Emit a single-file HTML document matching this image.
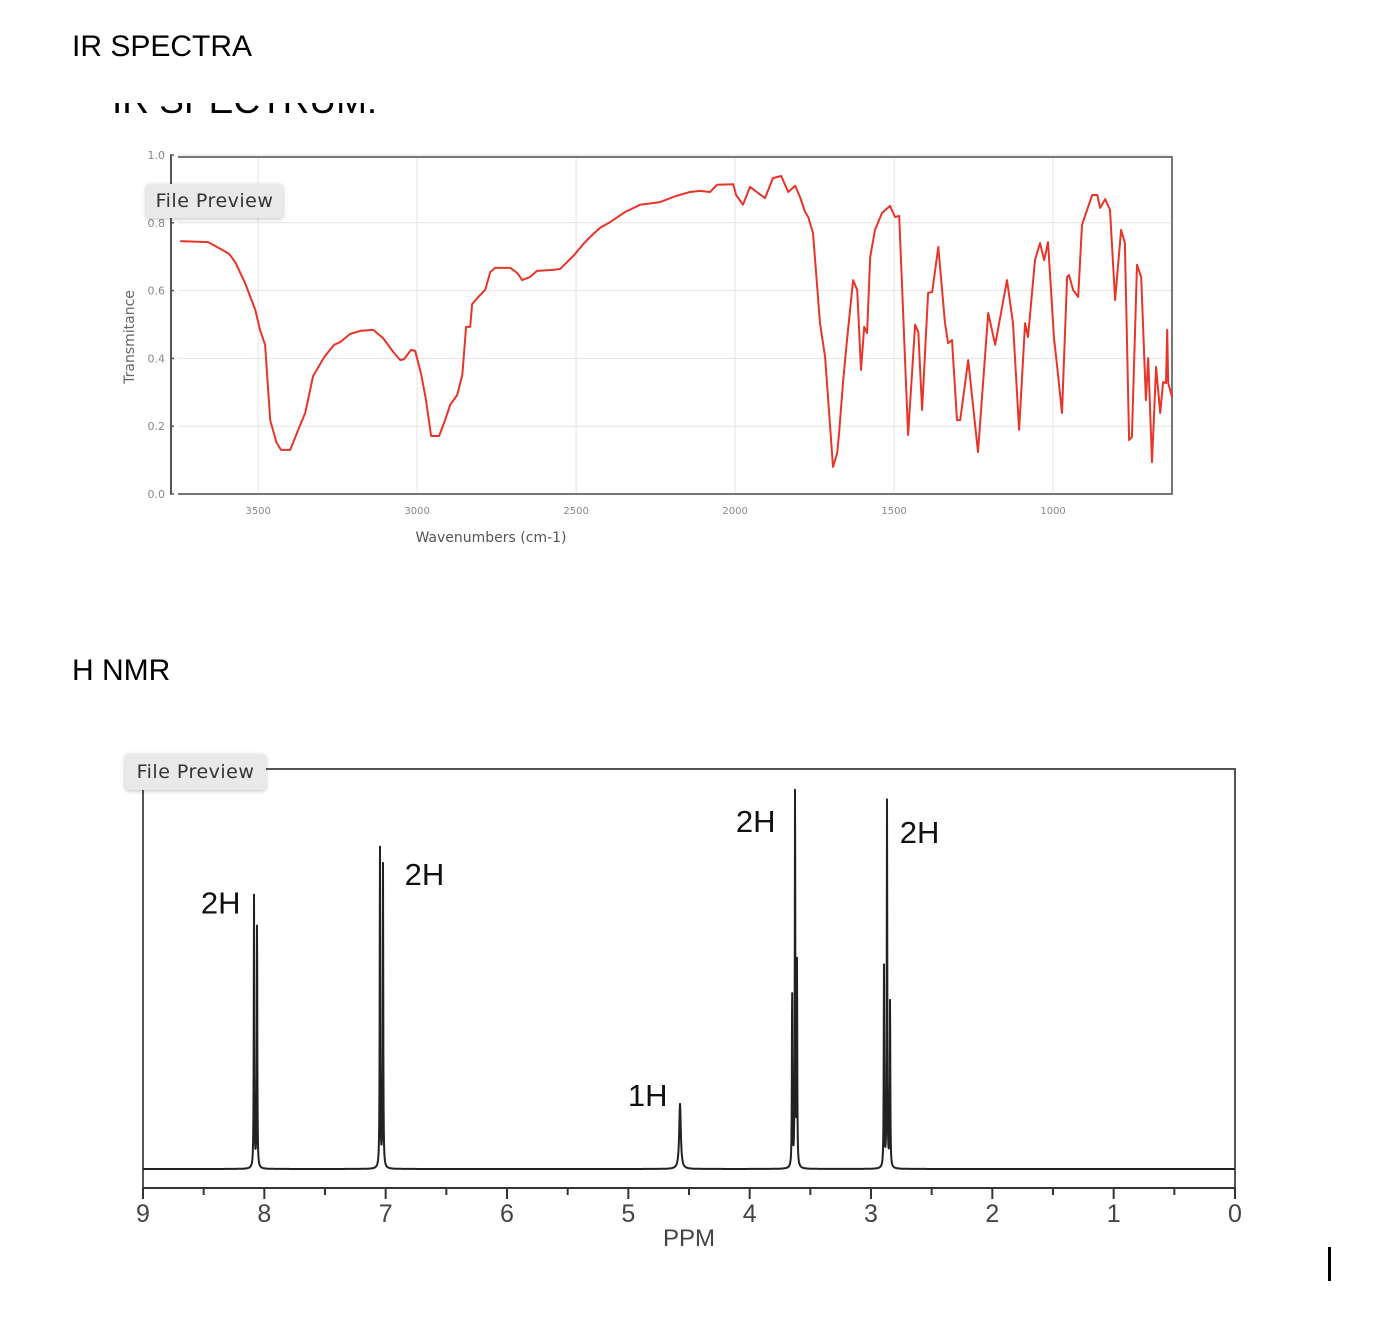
<!DOCTYPE html>
<html><head><meta charset="utf-8">
<style>
html,body{margin:0;padding:0;background:#fff;}
body{width:1384px;height:1322px;position:relative;overflow:hidden;font-family:"Liberation Sans",sans-serif;}
.h{position:absolute;font-size:30px;color:#000;line-height:1;}
.fp{position:absolute;background:#e9e9e9;border-radius:4px;box-shadow:0 1px 4px rgba(0,0,0,0.25);color:#333;font-size:19px;letter-spacing:0.5px;display:flex;align-items:center;justify-content:center;font-family:"DejaVu Sans","Liberation Sans",sans-serif;}
svg{position:absolute;left:0;top:0;}
</style></head>
<body>
<div class="h" style="left:72px;top:32px;">IR SPECTRA</div>
<div style="position:absolute;left:112px;top:103px;width:300px;height:14px;overflow:hidden;">
  <div style="position:absolute;left:0;top:-21px;font-size:37px;line-height:1;">IR SPECTRUM:</div>
</div>
<div class="h" style="left:72px;top:656px;">H NMR</div>

<svg id="ir" width="1384" height="1322"></svg>

<div class="fp" style="left:146px;top:184px;width:137px;height:34px;">File Preview</div>
<div class="fp" style="left:125px;top:754px;width:141px;height:36px;">File Preview</div>
<div style="position:absolute;left:1328px;top:1247px;width:3px;height:34px;background:#000;"></div>

<script>
// ---- IR data ----
const irWavenumbers = [3745,3657,3613,3591,3572,3541,3509,3494,3478,3462,3443,3428,3399,3374,3352,3327,3292,3261,3242,3211,3179,3138,3107,3075,3053,3041,3019,3006,2987,2972,2956,2931,2912,2896,2874,2858,2846,2833,2827,2808,2786,2770,2755,2707,2685,2670,2645,2623,2572,2550,2506,2478,2456,2425,2393,2346,2299,2236,2186,2142,2110,2079,2057,2006,1997,1975,1953,1906,1881,1855,1833,1811,1796,1780,1770,1755,1733,1717,1692,1679,1673,1660,1648,1629,1616,1604,1594,1585,1575,1560,1538,1513,1497,1484,1456,1434,1424,1412,1393,1380,1361,1340,1330,1318,1302,1292,1267,1236,1204,1182,1145,1126,1107,1088,1079,1057,1041,1028,1016,997,987,972,956,950,937,921,909,877,861,852,836,821,805,786,774,761,752,736,723,708,701,689,676,663,654,645,641,638,626];
const irTransmittance = [.746,.743,.720,.708,.684,.622,.543,.484,.440,.218,.153,.130,.130,.189,.239,.348,.404,.440,.448,.472,.481,.484,.460,.419,.395,.398,.425,.422,.351,.277,.171,.171,.218,.263,.292,.351,.493,.493,.560,.581,.602,.655,.667,.667,.652,.631,.640,.658,.661,.664,.705,.737,.758,.785,.802,.832,.853,.861,.879,.891,.894,.891,.912,.914,.882,.853,.906,.873,.932,.938,.891,.909,.876,.832,.817,.770,.504,.404,.080,.121,.180,.336,.454,.631,.602,.366,.493,.475,.699,.779,.829,.850,.817,.820,.174,.499,.478,.248,.593,.596,.729,.504,.445,.454,.218,.218,.395,.124,.534,.440,.631,.504,.189,.504,.463,.690,.740,.690,.743,.460,.375,.239,.640,.646,.602,.581,.794,.882,.882,.844,.870,.838,.572,.779,.740,.159,.168,.676,.640,.277,.401,.094,.375,.239,.330,.327,.484,.327,.286];
const irXTicks = [3500,3000,2500,2000,1500,1000];
const irYTicks = [0,0.2,0.4,0.6,0.8,1.0];

// ---- NMR data ----
const nmrShifts = [8.085,8.06,7.047,7.022,4.574,3.65,3.626,3.61,2.893,2.868,2.843];
const nmrIntensities = [0.717,0.651,0.850,0.795,0.171,0.470,1.0,0.530,0.528,0.963,0.444];
const nmrWidths = [0.0025,0.0025,0.0025,0.0025,0.008,0.0025,0.0025,0.0025,0.0025,0.0025,0.0025];
const nmrLabels = ["2H","2H","1H","2H","2H"];
const nmrLabelPpm = [8.36,6.68,4.84,3.95,2.6];
const nmrLabelTop = [0.671,0.746,0.166,0.885,0.855];
const nmrTicks = [9,8,7,6,5,4,3,2,1,0];

const NS="http://www.w3.org/2000/svg";
const svg=document.getElementById('ir');
function mk(t,a,p){const e=document.createElementNS(NS,t);for(const k in a)e.setAttribute(k,a[k]);(p||svg).appendChild(e);return e;}

// IR axes
const L=178,R=1172,T=157,B=494;
const wMax=3752,wMin=626;
const ix=w=>L+(wMax-w)/(wMax-wMin)*(R-L);
const iy=v=>494-v*339;
const irG=mk('g',{});


irYTicks.forEach(v=>{
  const g=mk('line',{x1:L,x2:R,y1:iy(v),y2:iy(v),stroke:'#e4e4e4','stroke-width':1},irG);
  
  
  const t=mk('text',{x:165,y:iy(v)+4,'text-anchor':'end','font-size':11,fill:'#888','font-family':'DejaVu Sans, sans-serif'},irG);
  t.textContent=v.toFixed(1);
  
  
  mk('line',{x1:170,x2:174,y1:iy(v),y2:iy(v),stroke:'#555','stroke-width':1.5},irG);
});
irXTicks.forEach(w=>{
  const g=mk('line',{x1:ix(w),x2:ix(w),y1:T,y2:B,stroke:'#e4e4e4','stroke-width':1},irG);
  
  
  const t=mk('text',{x:ix(w),y:514,'text-anchor':'middle','font-size':10,fill:'#888','font-family':'DejaVu Sans, sans-serif'},irG);
  t.textContent=w;
  
  
});
mk('line',{x1:171,x2:171,y1:155,y2:494,stroke:'#555','stroke-width':2},irG);
mk('polyline',{points:`${L},${T} ${R},${T} ${R},${B} ${L},${B}`,fill:'none',stroke:'#777','stroke-width':2},irG);
const yt=mk('text',{x:0,y:0,transform:'translate(134,337) rotate(-90)','text-anchor':'middle','font-size':14,fill:'#666','font-family':'DejaVu Sans, sans-serif'},irG);
yt.textContent='Transmitance';


const xt=mk('text',{x:491,y:542,'text-anchor':'middle','font-size':14,fill:'#555','font-family':'DejaVu Sans, sans-serif'},irG);
xt.textContent='Wavenumbers (cm-1)';


const ipts=irWavenumbers.map((w,i)=>ix(w).toFixed(1)+','+iy(irTransmittance[i]).toFixed(1)).join(' ');
const irLine=mk('polyline',{points:ipts,fill:'none',stroke:'#e8352a','stroke-width':2,'stroke-linejoin':'round'},irG);



// NMR
const NL=143,NR=1235,NT=769,NB=1188,base=1169,hMax=381;
const nx=p=>NL+(9-p)/9*(NR-NL);
const nG=mk('g',{});


mk('polyline',{points:`${NL},${NB} ${NL},${NT} ${NR},${NT} ${NR},${NB}`,fill:'none',stroke:'#555','stroke-width':2},nG);
mk('line',{x1:NL,x2:NR,y1:NB,y2:NB,stroke:'#333','stroke-width':2},nG);
nmrTicks.forEach(p=>{
  mk('line',{x1:nx(p),x2:nx(p),y1:NB,y2:NB+11,stroke:'#333','stroke-width':2},nG);
  if(p>0) mk('line',{x1:nx(p-0.5),x2:nx(p-0.5),y1:NB,y2:NB+7,stroke:'#333','stroke-width':2},nG);
  const t=mk('text',{x:nx(p),y:1222,'text-anchor':'middle','font-size':25,fill:'#444'},nG);
  t.textContent=p;
  
  
});
const pt=mk('text',{x:689,y:1246,'text-anchor':'middle','font-size':24,fill:'#444'},nG);
pt.textContent='PPM';


let d='';
for(let x=NL;x<=NR;x+=0.2){
  const p=9-(x-NL)/(NR-NL)*9;
  let s=0;
  for(let i=0;i<nmrShifts.length;i++){const g=nmrWidths[i];const dd=p-nmrShifts[i];s+=nmrIntensities[i]*g*g/(dd*dd+g*g);}
  d+=(d?'L':'M')+x.toFixed(1)+','+(base-s*hMax).toFixed(1);
}
const sp=mk('path',{d:d,fill:'none',stroke:'#222','stroke-width':2,'stroke-linejoin':'round'},nG);


nmrLabels.forEach((l,i)=>{
  const t=mk('text',{x:nx(nmrLabelPpm[i]),y:base-nmrLabelTop[i]*hMax,'text-anchor':'middle','font-size':31,fill:'#111'},nG);
  t.textContent=l;
  
  
});
</script>
</body></html>
